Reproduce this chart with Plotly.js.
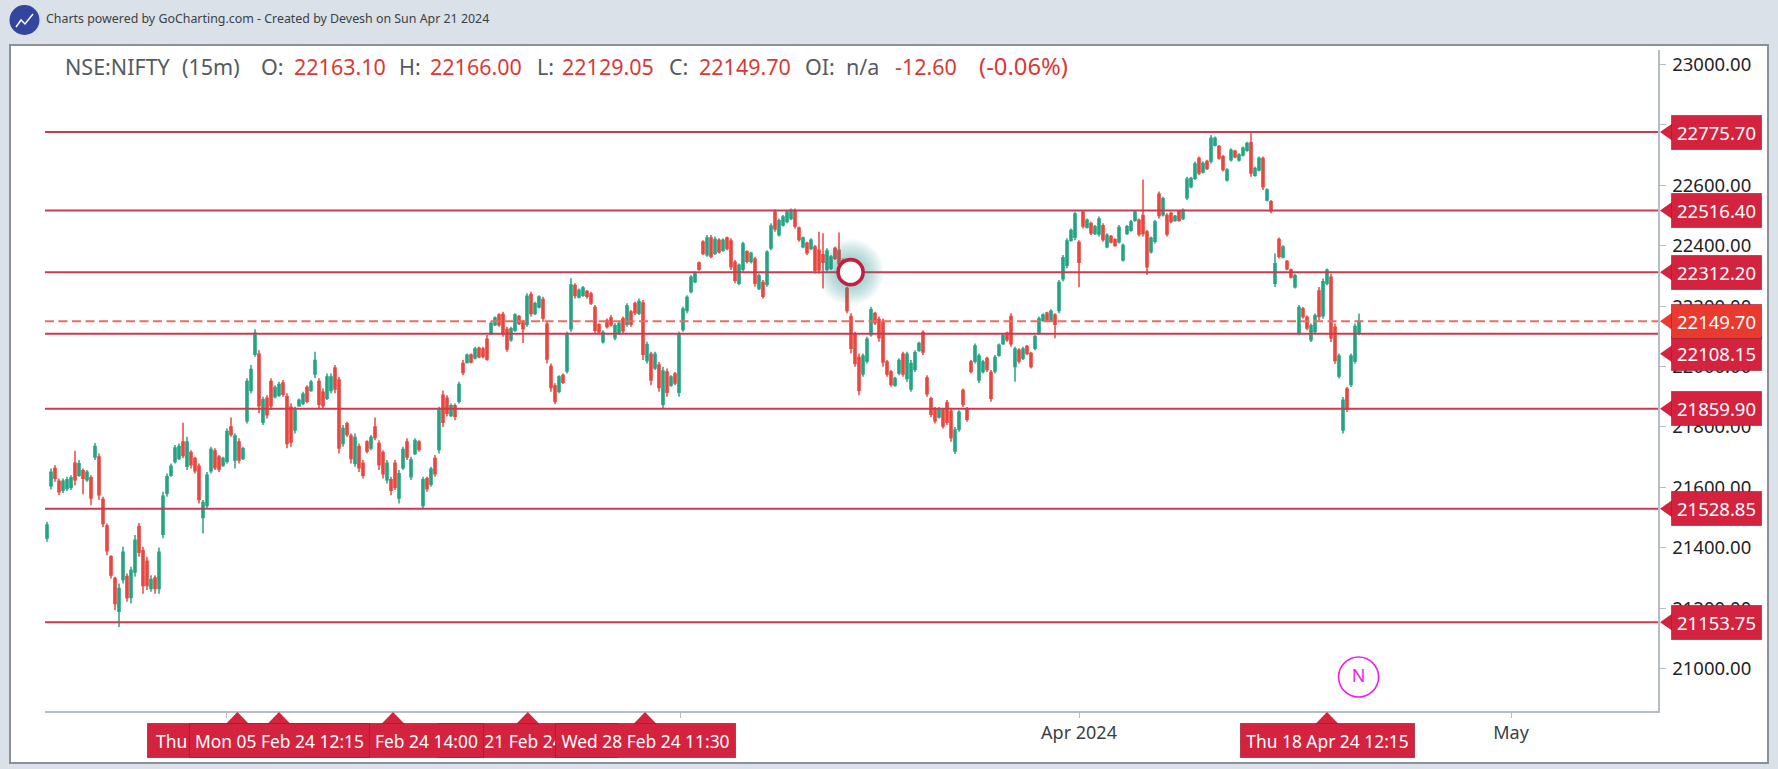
<!DOCTYPE html>
<html>
<head>
<meta charset="utf-8">
<script src="https://cdn.plot.ly/plotly-3.0.1.min.js"></script>
<style>
html, body { margin: 0; padding: 0; background: #dae1e8; overflow: hidden; }
</style>
</head>
<body>
<div id="chart" style="width:1778px;height:769px"></div>
<script>
// 15m candles, grouped so each entry fills one slot of the x axis
var opens = [21432,21605,21662,21620,21590,21596,21600,21680,21640,21655,21625,21632,21700,21700,21560,21472,21370,21298,21190,21295,
21305,21235,21320,21470,21390,21355,21265,21300,21265,21445,21580,21640,21685,21695,21750,21670,21715,21695,21670,21500,
21540,21655,21720,21700,21672,21685,21800,21690,21750,21695,21820,21920,22040,22040,21815,21895,21950,21900,21905,21945,
21900,21865,21790,21870,21878,21930,21920,21975,21950,21915,21895,21920,21995,21955,21745,21810,21770,21680,21735,21680,
21750,21730,21800,21745,21715,21625,21625,21680,21565,21665,21750,21635,21712,21750,21540,21628,21610,21695,21725,21905,
21895,21838,21870,21885,22010,22013,22038,22028,22060,22058,22090,22108,22138,22170,22172,22122,22088,22120,22165,22145,
22140,22238,22175,22197,22222,22140,22000,21935,21918,21970,21985,22125,22268,22230,22236,22248,22240,22195,22138,22082,
22152,22160,22095,22110,22158,22140,22180,22208,22176,22210,22020,22040,21995,22005,21875,21982,21938,21975,21915,22122,
22185,22248,22280,22342,22412,22370,22425,22375,22418,22385,22425,22415,22345,22275,22322,22380,22347,22355,22258,22278,
22272,22392,22510,22436,22468,22480,22490,22515,22458,22396,22408,22390,22395,22385,22370,22322,22325,22390,22385,22350,
22258,22165,22105,22030,21975,22018,22105,22175,22155,22150,22015,21982,21938,21978,22040,21960,21925,21990,22053,22112,
21962,21893,21860,21833,21855,21880,21852,21720,21792,21920,21860,22015,22017,21955,21983,22026,21980,21985,22037,22076,
22110,22165,22000,22054,22027,22066,22043,22060,22110,22152,22176,22153,22170,22185,22290,22335,22418,22428,22410,22510,
22461,22473,22440,22438,22466,22396,22430,22419,22413,22352,22440,22451,22484,22484,22500,22445,22380,22414,22570,22502,
22500,22506,22483,22512,22490,22558,22595,22623,22688,22644,22678,22680,22732,22728,22694,22617,22684,22712,22683,22700,
22716,22740,22633,22650,22688,22551,22545,22275,22420,22362,22347,22319,22264,22112,22190,22163,22088,22116,22250,22168,
22275,22295,22130,21968,21790,21925,21940,22018,22110];
var highs = [21486,21662,21673,21629,21629,21635,21640,21721,21690,21662,21657,21640,21747,21712,21569,21480,21375,21304,21282,21403,
21315,21337,21442,21482,21403,21370,21309,21309,21401,21585,21646,21679,21740,21745,21814,21767,21723,21701,21679,21558,
21651,21734,21729,21707,21701,21795,21831,21778,21762,21734,21961,22005,22123,22054,21900,21905,21961,21938,21949,21955,
21911,21878,21867,21894,21916,21938,21955,22049,21961,21927,21977,21977,22005,21966,21806,21817,21778,21778,21745,21690,
21756,21773,21831,21756,21723,21690,21635,21690,21657,21734,21762,21701,21762,21756,21635,21635,21668,21707,21867,21920,
21905,21877,21877,21949,22021,22043,22043,22065,22065,22065,22104,22148,22165,22176,22181,22131,22131,22176,22170,22154,
22242,22247,22214,22236,22231,22148,22010,21944,21971,21977,22115,22292,22275,22258,22266,22253,22247,22203,22143,22120,
22159,22170,22143,22148,22165,22209,22187,22214,22225,22220,22082,22049,22049,22015,21999,21993,21971,21982,22115,22198,
22236,22303,22314,22347,22418,22435,22435,22430,22424,22424,22430,22424,22352,22341,22413,22385,22380,22363,22308,22286,
22385,22474,22520,22490,22501,22518,22523,22523,22463,22430,22413,22424,22402,22446,22441,22391,22369,22396,22443,22358,
22264,22176,22115,22043,22043,22098,22198,22181,22165,22159,22021,21988,21966,22027,22049,22049,22021,22054,22082,22120,
21971,21900,21866,21866,21861,21889,21861,21800,21855,21927,21866,22021,22076,22043,22021,22032,21988,22038,22076,22109,
22115,22176,22065,22060,22065,22071,22049,22104,22165,22176,22181,22189,22176,22286,22369,22424,22457,22512,22418,22518,
22490,22479,22468,22496,22474,22441,22435,22424,22468,22407,22468,22485,22518,22490,22619,22452,22430,22485,22579,22562,
22507,22512,22501,22518,22523,22628,22628,22678,22695,22678,22684,22766,22761,22733,22700,22656,22722,22717,22706,22728,
22744,22772,22661,22695,22695,22590,22551,22374,22427,22401,22352,22324,22307,22203,22197,22169,22142,22175,22263,22291,
22324,22307,22142,22043,21899,21932,22043,22142,22175];
var lows = [21420,21593,21618,21574,21580,21588,21591,21607,21635,21577,21618,21541,21690,21558,21469,21375,21298,21193,21138,21282,
21221,21215,21304,21370,21248,21260,21254,21248,21248,21431,21569,21635,21679,21690,21696,21657,21662,21646,21546,21447,
21530,21646,21657,21651,21668,21679,21767,21662,21679,21690,21811,21911,22032,21845,21806,21828,21856,21894,21900,21900,
21729,21734,21778,21867,21872,21878,21916,21961,21861,21861,21889,21911,21911,21712,21734,21767,21679,21668,21651,21629,
21712,21723,21756,21657,21629,21613,21574,21591,21546,21657,21690,21624,21707,21718,21530,21585,21602,21635,21712,21800,
21834,21833,21822,21877,21971,22010,22010,22023,22027,22027,22019,22104,22134,22131,22098,22049,22082,22115,22137,22078,
22131,22165,22170,22192,22148,22010,21916,21875,21911,21942,21977,22115,22225,22225,22231,22225,22203,22109,22109,22076,
22126,22131,22087,22104,22109,22131,22131,22170,22170,22021,22010,21938,21988,21916,21861,21900,21933,21938,21900,22115,
22176,22242,22275,22317,22369,22363,22358,22369,22374,22380,22385,22319,22275,22269,22314,22341,22341,22264,22253,22225,
22264,22385,22446,22430,22463,22474,22485,22457,22413,22391,22369,22385,22308,22308,22258,22314,22319,22352,22330,22297,
22176,22043,21999,21905,21966,22010,22098,22137,22082,21999,21966,21933,21933,21971,21966,21949,21916,21982,22049,22038,
21900,21833,21811,21828,21795,21806,21751,21710,21784,21866,21817,21977,22010,21944,21977,21982,21883,21977,22032,22071,
22082,22065,21949,22010,22021,22038,21993,22054,22104,22148,22148,22148,22093,22176,22281,22325,22413,22418,22262,22457,
22457,22435,22435,22430,22413,22391,22407,22396,22407,22347,22435,22446,22479,22430,22430,22303,22374,22407,22490,22496,
22430,22474,22479,22479,22485,22551,22590,22617,22634,22639,22650,22672,22728,22684,22645,22612,22678,22689,22678,22695,
22711,22628,22628,22645,22584,22546,22507,22263,22357,22357,22318,22291,22258,22103,22158,22120,22081,22109,22153,22158,
22269,22081,22009,21960,21778,21849,21932,22009,22103];
var closes = [21475,21650,21630,21585,21620,21625,21632,21625,21678,21630,21650,21565,21735,21575,21480,21390,21310,21215,21265,21385,
21235,21325,21425,21385,21275,21275,21295,21265,21385,21570,21635,21670,21730,21735,21705,21750,21675,21655,21560,21550,
21640,21725,21665,21660,21695,21785,21775,21770,21690,21728,21950,21990,22110,21870,21890,21840,21870,21930,21940,21908,
21745,21750,21855,21888,21908,21885,21948,22020,21875,21870,21965,21965,21925,21730,21795,21775,21695,21765,21665,21640,
21720,21765,21765,21675,21645,21680,21590,21600,21645,21725,21700,21690,21755,21725,21625,21595,21660,21645,21855,21815,
21845,21870,21835,21940,21980,22037,22015,22058,22032,22033,22025,22142,22160,22138,22108,22058,22125,22170,22142,22125,
22232,22175,22208,22230,22160,22025,21930,21885,21965,21948,22105,22270,22235,22252,22260,22232,22210,22120,22115,22112,
22132,22138,22135,22142,22118,22200,22140,22178,22215,22040,22072,21955,22040,21930,21985,21915,21965,21945,22105,22190,
22228,22295,22308,22322,22375,22425,22365,22420,22380,22418,22390,22330,22285,22335,22405,22348,22375,22275,22300,22232,
22378,22465,22455,22482,22495,22510,22517,22465,22420,22425,22376,22418,22318,22320,22345,22382,22362,22358,22340,22305,
22185,22060,22010,21920,22035,22090,22188,22145,22095,22015,21975,21940,21960,22020,21975,22040,22010,22045,22076,22048,
21910,21842,21820,21860,21803,21815,21765,21790,21848,21875,21825,21983,22068,22035,22015,21990,21895,22030,22070,22103,
22088,22075,22058,22018,22058,22043,22000,22098,22158,22170,22153,22183,22140,22278,22360,22415,22450,22505,22345,22465,
22484,22442,22462,22488,22420,22434,22412,22400,22460,22400,22462,22478,22510,22438,22440,22330,22424,22478,22500,22555,
22438,22480,22497,22484,22517,22620,22622,22670,22640,22672,22655,22755,22755,22690,22652,22650,22716,22694,22700,22722,
22738,22640,22655,22688,22595,22584,22515,22340,22365,22395,22323,22296,22300,22195,22165,22127,22135,22168,22165,22280,
22318,22095,22020,22035,21888,21858,22035,22132,22149.7];

var levels = [22775.70, 22516.40, 22312.20, 22108.15, 21859.90, 21528.85, 21153.75];
var lastPrice = 22149.70;
var tagBars = [47.6, 120.2, 86.5, 58, 149.5, 320];
var tagTexts = ['Thu 01 Feb 24 10:45', 'Wed 21 Feb 24 09:30', 'Mon 12 Feb 24 14:00', 'Mon 05 Feb 24 12:15', 'Wed 28 Feb 24 11:30', 'Thu 18 Apr 24 12:15'];
var tagWidths = [179, 179, 179, 179, 179, 173];
var monthTicks = [44.75, 158.25, 258, 366];
var monthLabels = ['Feb', 'Mar', 'Apr 2024', 'May'];
var pickedBar = 200.9;
var newsBar = 327.9;
var newsPrice = 20972;

var slots = opens.map(function (v, i) { return i; });

var labelFont = 'Noto Sans, sans-serif';
var crimson = '#d4233f';

// helpers for page pixels, the plot box is 45..1658 by 50..711
function px(x) { return (x - 45) / 1613; }
function py(y) { return (711 - y) / 661; }

var data = [{
    type: 'candlestick',
    x: slots,
    open: opens,
    high: highs,
    low: lows,
    close: closes,
    whiskerwidth: 0,
    increasing: { line: { color: '#26a484', width: 1.5 }, fillcolor: '#26a484' },
    decreasing: { line: { color: '#e8483f', width: 1.5 }, fillcolor: '#e8483f' },
    hoverinfo: 'skip',
    showlegend: false
}];

levels.forEach(function (level) {
    data.push({
        type: 'scatter', mode: 'lines',
        x: [-0.5, 402.75], y: [level, level],
        line: { color: '#cc3a50', width: 2 },
        hoverinfo: 'skip', showlegend: false
    });
});

data.push({
    type: 'scatter', mode: 'lines',
    x: [-0.5, 402.75], y: [lastPrice, lastPrice],
    line: { color: '#ef6a62', width: 2, dash: '9px,4.5px' },
    hoverinfo: 'skip', showlegend: false
});

// glow and ring on the picked point
var glowSizes = [66, 62, 58, 54, 50, 46, 42, 38, 34];
data.push({
    type: 'scatter', mode: 'markers',
    x: glowSizes.map(function () { return pickedBar; }),
    y: glowSizes.map(function () { return 22312.2; }),
    marker: { size: glowSizes, color: 'rgba(35,140,150,0.07)', line: { width: 0 } },
    hoverinfo: 'skip', showlegend: false
});
data.push({
    type: 'scatter', mode: 'markers',
    x: [pickedBar], y: [22312.2],
    marker: { size: 25, color: '#ffffff', line: { color: '#c2203f', width: 3.6 } },
    hoverinfo: 'skip', showlegend: false
});
data.push({
    type: 'scatter', mode: 'markers+text',
    x: [newsBar], y: [newsPrice],
    text: ['N'], textposition: 'middle center',
    textfont: { family: labelFont, size: 18, color: '#f01ef0' },
    marker: { size: 40, color: '#ffffff', line: { color: '#f01ef0', width: 1.6 } },
    hoverinfo: 'skip', showlegend: false
});

var shapes = [{
    type: 'rect', layer: 'below', xref: 'paper', yref: 'paper',
    x0: px(10), x1: px(1768), y0: py(763), y1: py(45),
    fillcolor: '#ffffff', line: { color: '#8c9196', width: 2 }
}, {
    type: 'circle', xref: 'paper', yref: 'paper',
    x0: px(9.5), x1: px(39.5), y0: py(35), y1: py(5),
    fillcolor: '#34459d', line: { width: 0 }
}, {
    type: 'path', xref: 'paper', yref: 'paper',
    path: 'M ' + px(16) + ' ' + py(27) + ' L ' + px(21) + ' ' + py(20) + ' L ' + px(25) + ' ' + py(24) + ' L ' + px(33) + ' ' + py(14),
    line: { color: '#ffffff', width: 1.5 }
}];

var annotations = [{
    xref: 'paper', yref: 'paper', x: px(44), y: py(19), xanchor: 'left', yanchor: 'middle',
    text: 'Charts powered by GoCharting.com - Created by Devesh on Sun Apr 21 2024',
    showarrow: false, font: { family: labelFont, size: 12.4, color: '#3a3f44' }
}];

// OHLC read-out along the top of the panel
var grey = '#555a5f', red = '#d93a36';
[['NSE:NIFTY', 63, grey, 21.5], ['(15m)', 180, grey, 21.5], ['O:', 259, grey, 21.5], ['22163.10', 292, red, 21.5], ['H:', 397, grey, 21.5], ['22166.00', 428, red, 21.5],
 ['L:', 535, grey, 21.5], ['22129.05', 560, red, 21.5], ['C:', 667, grey, 21.5], ['22149.70', 697, red, 21.5], ['OI:', 803, grey, 21.5], ['n/a', 844, grey, 21.5],
 ['-12.60', 893, red, 21.5], ['(-0.06%)', 977, red, 23.8]].forEach(function (item) {
    annotations.push({
        xref: 'paper', yref: 'paper', x: px(item[1]), y: py(66), xanchor: 'left', yanchor: 'middle',
        text: item[0], showarrow: false, font: { family: labelFont, size: item[3], color: item[2] }
    });
});

function priceTag(price, color, shift) {
    var halfTip = 28;
    var y = price + shift / 0.302;
    shapes.push({
        type: 'path', xref: 'paper', yref: 'y',
        path: 'M ' + px(1660) + ' ' + y + ' L ' + px(1672) + ' ' + (y + halfTip) + ' L ' + px(1672) + ' ' + (y - halfTip) + ' Z',
        fillcolor: color, line: { width: 0 }
    });
    annotations.push({
        xref: 'paper', yref: 'y', x: px(1671), y: y, xanchor: 'left', yanchor: 'middle',
        text: price.toFixed(2), showarrow: false, width: 89, height: 33,
        bgcolor: color, borderpad: 0, borderwidth: 1, bordercolor: 'rgba(150,30,50,0.6)', align: 'center',
        font: { family: labelFont, size: 18.5, color: '#ffffff' }
    });
}

levels.forEach(function (level) {
    priceTag(level, crimson, level === 22108.15 ? -20 : 0);
});
priceTag(lastPrice, '#e83a2e', 0);

tagBars.forEach(function (bar, i) {
    shapes.push({
        type: 'path', xref: 'x', yref: 'paper',
        path: 'M ' + bar + ' ' + py(712) + ' L ' + (bar + 2.9) + ' ' + py(724) + ' L ' + (bar - 2.9) + ' ' + py(724) + ' Z',
        fillcolor: crimson, line: { width: 0 }
    });
    annotations.push({
        xref: 'x', yref: 'paper', x: bar, y: py(740), xanchor: 'center', yanchor: 'middle',
        text: tagTexts[i], showarrow: false, width: tagWidths[i], height: 33,
        bgcolor: crimson, borderpad: 0, borderwidth: 1, bordercolor: 'rgba(150,30,50,0.7)', align: 'center',
        font: { family: labelFont, size: 17.4, color: '#ffffff' }
    });
});

var layout = {
    width: 1778,
    height: 769,
    margin: { l: 45, r: 120, t: 50, b: 58, pad: 0 },
    paper_bgcolor: '#dae1e8',
    plot_bgcolor: '#ffffff',
    showlegend: false,
    dragmode: false,
    boxgap: 0.25,
    xaxis: {
        type: 'linear',
        range: [-0.5, 402.75],
        rangeslider: { visible: false },
        showgrid: false, zeroline: false,
        showline: true, linecolor: '#b5bec6', linewidth: 1.5,
        tickmode: 'array', tickvals: monthTicks, ticktext: monthLabels,
        ticks: 'outside', ticklen: 5, tickcolor: '#b5bec6',
        tickfont: { family: labelFont, size: 18, color: '#3a3f44' }
    },
    yaxis: {
        side: 'right',
        range: [20859.6, 23047.4],
        showgrid: false, zeroline: false,
        showline: true, linecolor: '#b5bec6', linewidth: 1.5,
        tick0: 21000, dtick: 200, tickformat: '.2f',
        ticks: 'outside', ticklen: 6, tickcolor: '#b5bec6',
        ticklabelstandoff: 3,
        tickfont: { family: labelFont, size: 18.5, color: '#1f2327' }
    },
    shapes: shapes,
    annotations: annotations
};

Plotly.newPlot('chart', data, layout, { displayModeBar: false, staticPlot: true });
</script>
</body>
</html>
